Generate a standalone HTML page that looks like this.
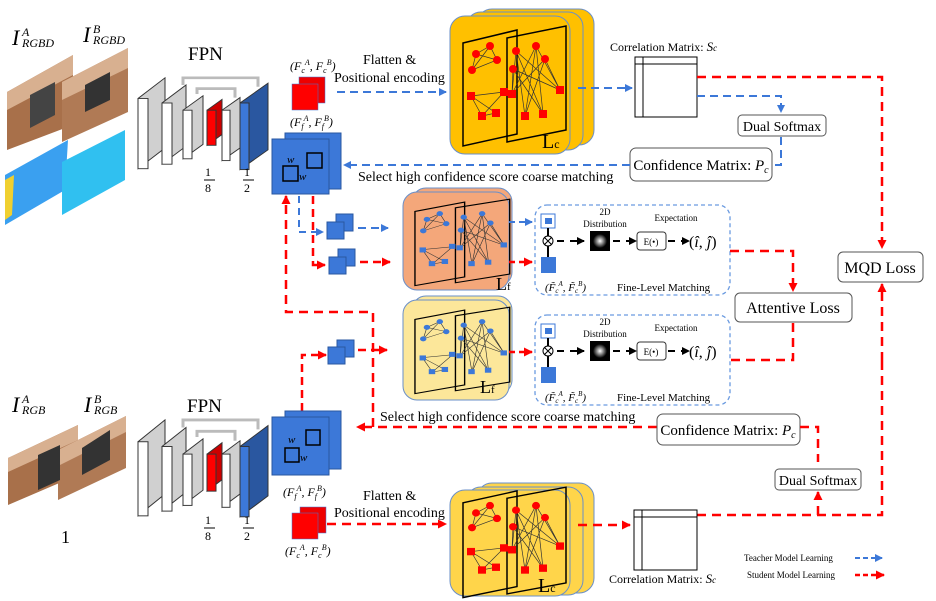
<!DOCTYPE html>
<html><head><meta charset="utf-8"><style>
body{margin:0;background:#fff}
svg{display:block;font-family:"Liberation Serif",serif}
</style></head><body>
<svg width="936" height="601" viewBox="0 0 936 601" xmlns="http://www.w3.org/2000/svg">
<defs>
<marker id="ab" markerWidth="8" markerHeight="8" refX="7" refY="4" orient="auto" markerUnits="userSpaceOnUse"><path d="M0,0 L8,4 L0,8z" fill="#3c78d8"/></marker>
<marker id="ar" markerWidth="9" markerHeight="9" refX="8" refY="4.5" orient="auto" markerUnits="userSpaceOnUse"><path d="M0,0 L9,4.5 L0,9z" fill="#f00"/></marker>
<marker id="ak" markerWidth="8" markerHeight="8" refX="7" refY="4" orient="auto" markerUnits="userSpaceOnUse"><path d="M0,0 L8,4 L0,8z" fill="#000"/></marker>
<radialGradient id="gs"><stop offset="0" stop-color="#fff"/><stop offset="0.7" stop-color="#000"/></radialGradient>
<g id="graph">
 <polygon points="13,27 67,14 67,118 13,130" fill="none" stroke="#000" stroke-width="1.5"/>
 <polygon points="57,22 116,10 116,114 57,126" fill="none" stroke="#000" stroke-width="1.5"/>
 <g stroke="#333" stroke-width="0.7" fill="none">
 <path d="M26,38L40,30L47,44L22,54L26,38L47,44M40,30L22,54M21,80L54,76L32,100L46,97L21,80L46,97M54,76L32,100M21,80L32,100"/>
 <path d="M66,35L62,78M66,35L75,100M66,35L110,74M86,30L62,78M86,30L93,98M86,30L75,100M95,43L62,78M95,43L75,100M63,53L110,74M63,53L93,98M66,35L93,98M95,43L110,74M63,53L62,78M86,30L110,74"/>
 </g>
</g>
<g id="grR">
 <use href="#graph"/>
 <g fill="#f00"><circle cx="26" cy="38" r="4"/><circle cx="40" cy="30" r="4"/><circle cx="47" cy="44" r="4"/><circle cx="22" cy="54" r="4"/>
 <circle cx="66" cy="35" r="4"/><circle cx="86" cy="30" r="4"/><circle cx="95" cy="43" r="4"/><circle cx="63" cy="53" r="4"/>
 <rect x="17" y="76" width="8" height="8"/><rect x="50" y="72" width="8" height="8"/><rect x="28" y="96" width="8" height="8"/><rect x="42" y="93" width="8" height="8"/>
 <rect x="58" y="74" width="8" height="8"/><rect x="106" y="70" width="8" height="8"/><rect x="71" y="96" width="8" height="8"/><rect x="89" y="94" width="8" height="8"/></g>
</g>
<g id="grB">
 <use href="#graph"/>
 <g fill="#3c78d8"><circle cx="26" cy="38" r="3.5"/><circle cx="40" cy="30" r="3.5"/><circle cx="47" cy="44" r="3.5"/><circle cx="22" cy="54" r="3.5"/>
 <circle cx="66" cy="35" r="3.5"/><circle cx="86" cy="30" r="3.5"/><circle cx="95" cy="43" r="3.5"/><circle cx="63" cy="53" r="3.5"/>
 <rect x="18" y="77" width="7" height="7"/><rect x="50" y="72" width="7" height="7"/><rect x="28" y="96" width="7" height="7"/><rect x="42" y="93" width="7" height="7"/>
 <rect x="58" y="74" width="7" height="7"/><rect x="106" y="70" width="7" height="7"/><rect x="71" y="96" width="7" height="7"/><rect x="89" y="94" width="7" height="7"/></g>
</g>
<g id="fpn">
 <path d="M183,10 L183,2 L258,2 L258,12 M197,20 L197,14 L235,14 L235,24" fill="none" stroke="#bbb" stroke-width="3"/>
 <polygon points="138,25 165,2 165,80 138,103" fill="#d0d0d0" stroke="#333"/><rect x="138" y="25" width="10" height="78" fill="#fff" stroke="#333"/>
 <polygon points="162,30 186,10 186,78 162,98" fill="#d0d0d0" stroke="#333"/><rect x="162" y="30" width="10" height="68" fill="#fff" stroke="#333"/>
 <polygon points="183,38 203,22 203,76 183,92" fill="#d0d0d0" stroke="#333"/><rect x="183" y="38" width="9" height="54" fill="#fff" stroke="#333"/>
 <polygon points="207,38 222,26 222,65 207,77" fill="#c00" stroke="#333"/><rect x="207" y="38" width="9" height="39" fill="#f00" stroke="#333"/>
 <polygon points="222,38 240,24 240,80 222,94" fill="#d0d0d0" stroke="#333"/><rect x="222" y="38" width="8" height="56" fill="#fff" stroke="#333"/>
 <polygon points="240,30 268,8 268,82 240,104" fill="#2a57a0" stroke="#333"/><rect x="240" y="30" width="9" height="74" fill="#3c78d8" stroke="#333"/>
</g>
</defs>

<!-- top images -->
<text x="12" y="45" font-size="22" font-style="italic">I</text><text x="22" y="36" font-size="12" font-style="italic">A</text><text x="22" y="47" font-size="12" font-style="italic">RGBD</text>
<text x="83" y="42" font-size="22" font-style="italic">I</text><text x="93" y="33" font-size="12" font-style="italic">B</text><text x="93" y="44" font-size="12" font-style="italic">RGBD</text>
<polygon points="7,92 73,55 73,125 7,150" fill="#a8704a"/><polygon points="62,82 128,48 128,112 62,142" fill="#b07a55"/>
<polygon points="7,92 73,55 73,75 7,110" fill="#d8b090"/><polygon points="62,82 128,48 128,68 62,100" fill="#d8b090"/>
<polygon points="30,95 55,82 55,115 30,128" fill="#444"/><polygon points="85,85 110,72 110,100 85,112" fill="#333"/>
<polygon points="5,175 68,140 65,190 5,225" fill="#3aa0f0"/><polygon points="62,162 125,130 125,180 62,215" fill="#30c0f0"/>
<polygon points="5,180 14,175 12,215 5,220" fill="#f0d030"/>

<!-- top FPN -->
<text x="188" y="60" font-size="19">FPN</text>
<use href="#fpn" transform="translate(0,76) scale(1,0.9)"/>
<text x="205" y="176" font-size="12">1</text><line x1="204" y1="180" x2="215" y2="180" stroke="#000"/><text x="205" y="192" font-size="12">8</text>
<text x="244" y="176" font-size="12">1</text><line x1="243" y1="180" x2="254" y2="180" stroke="#000"/><text x="244" y="192" font-size="12">2</text>

<text x="290" y="70" font-size="12" font-style="italic">(F<tspan font-size="8" dy="3">c</tspan><tspan font-size="8" dy="-8">A</tspan><tspan dy="5">, F</tspan><tspan font-size="8" dy="3">c</tspan><tspan font-size="8" dy="-8">B</tspan><tspan dy="5">)</tspan></text>
<rect x="299" y="77" width="26" height="26" fill="#e00" stroke="#3c78d8" stroke-width="0.5"/><rect x="292" y="84" width="26" height="26" fill="#f00" stroke="#3c78d8" stroke-width="0.5"/>
<text x="290" y="126" font-size="12" font-style="italic">(F<tspan font-size="8" dy="3">f</tspan><tspan font-size="8" dy="-8">A</tspan><tspan dy="5">, F</tspan><tspan font-size="8" dy="3">f</tspan><tspan font-size="8" dy="-8">B</tspan><tspan dy="5">)</tspan></text>
<rect x="285" y="133" width="56" height="56" fill="#3c78d8" stroke="#2a57a0"/><rect x="272" y="139" width="57" height="55" fill="#3c78d8" stroke="#2a57a0"/>
<rect x="307" y="153" width="15" height="15" fill="none" stroke="#000" stroke-width="1.5"/><rect x="283" y="166" width="15" height="15" fill="none" stroke="#000" stroke-width="1.5"/>
<text x="287" y="163" font-size="11" font-style="italic">w</text><text x="299" y="180" font-size="11" font-style="italic">w</text>

<text x="363" y="64" font-size="14">Flatten &amp;</text>
<text x="334" y="82" font-size="14">Positional encoding</text>
<line x1="337" y1="92" x2="446" y2="92" stroke="#3c78d8" stroke-width="2" stroke-dasharray="8,5" marker-end="url(#ab)"/>

<!-- top Lc -->
<rect x="477" y="9" width="117" height="136" rx="15" fill="#ffc000" stroke="#6a8fc8"/>
<rect x="466" y="12" width="117" height="138" rx="15" fill="#ffc000" stroke="#6a8fc8"/>
<rect x="450" y="16" width="120" height="138" rx="15" fill="#ffc000" stroke="#6a8fc8"/>
<use href="#grR" transform="translate(450,16)"/>
<text x="542" y="148" font-size="20">L<tspan font-size="12">c</tspan></text>
<line x1="578" y1="88" x2="632" y2="88" stroke="#3c78d8" stroke-width="2" stroke-dasharray="8,5" marker-end="url(#ab)"/>

<text x="610" y="51" font-size="12">Correlation Matrix:  <tspan font-style="italic" font-size="13">S<tspan font-size="9">c</tspan></tspan></text>
<rect x="635" y="57" width="62" height="60" fill="#fff" stroke="#000"/><line x1="635" y1="64" x2="697" y2="64" stroke="#000"/><line x1="643" y1="57" x2="643" y2="117" stroke="#000"/>
<path d="M697,77 L882,77 L882,248" fill="none" stroke="#f00" stroke-width="2.5" stroke-dasharray="9,6" marker-end="url(#ar)"/>
<path d="M697,96 L781,96 L781,112" fill="none" stroke="#3c78d8" stroke-width="2" stroke-dasharray="8,5" marker-end="url(#ab)"/>
<rect x="738" y="115" width="88" height="21" rx="4" fill="#fff" stroke="#555"/><text x="782" y="131" font-size="14" text-anchor="middle">Dual Softmax</text>
<path d="M781,137 L781,165 L773,165" fill="none" stroke="#3c78d8" stroke-width="2" stroke-dasharray="8,5"/>
<rect x="630" y="148" width="142" height="33" rx="6" fill="#fff" stroke="#555"/><text x="701" y="170" font-size="15" text-anchor="middle">Confidence Matrix: <tspan font-style="italic">P<tspan font-size="10" dy="3">c</tspan></tspan></text>
<line x1="630" y1="165" x2="344" y2="165" stroke="#3c78d8" stroke-width="2" stroke-dasharray="8,5" marker-end="url(#ab)"/>
<text x="358" y="181" font-size="14">Select high confidence score coarse matching</text>

<!-- upper fine -->
<path d="M299,196 L299,232 L323,232" fill="none" stroke="#3c78d8" stroke-width="2" stroke-dasharray="7,5" marker-end="url(#ab)"/>
<path d="M313,196 L313,265 L325,265" fill="none" stroke="#f00" stroke-width="2.5" stroke-dasharray="8,5" marker-end="url(#ar)"/>
<rect x="336" y="214" width="17" height="17" fill="#3c78d8" stroke="#2a57a0"/><rect x="327" y="222" width="17" height="17" fill="#3c78d8" stroke="#2a57a0"/>
<rect x="338" y="249" width="17" height="17" fill="#3c78d8" stroke="#2a57a0"/><rect x="329" y="257" width="17" height="17" fill="#3c78d8" stroke="#2a57a0"/>
<line x1="358" y1="228" x2="388" y2="228" stroke="#3c78d8" stroke-width="2" stroke-dasharray="8,5" marker-end="url(#ab)"/>
<line x1="360" y1="262" x2="390" y2="262" stroke="#f00" stroke-width="2.5" stroke-dasharray="8,5" marker-end="url(#ar)"/>

<rect x="412" y="188" width="100" height="98" rx="14" fill="#f4a77a" stroke="#6a8fc8"/>
<rect x="403" y="192" width="106" height="98" rx="14" fill="#f4a77a" stroke="#6a8fc8"/>
<use href="#grB" transform="translate(403,192) scale(0.92,0.72)"/>
<text x="496" y="290" font-size="18">L<tspan font-size="11">f</tspan></text>
<line x1="509" y1="222" x2="532" y2="222" stroke="#3c78d8" stroke-width="2" stroke-dasharray="6,4" marker-end="url(#ab)"/>
<line x1="509" y1="262" x2="532" y2="262" stroke="#f00" stroke-width="2.5" stroke-dasharray="6,4" marker-end="url(#ar)"/>

<g id="fine">
<rect x="535" y="205" width="195" height="90" rx="12" fill="none" stroke="#6a9ae0" stroke-width="1.3" stroke-dasharray="4,3"/>
<rect x="541" y="214" width="14" height="14" fill="#fff" stroke="#3c78d8"/><rect x="545" y="218" width="7" height="6" fill="#3c78d8"/>
<line x1="548" y1="228" x2="548" y2="257" stroke="#000" stroke-width="2"/>
<circle cx="548" cy="241" r="5" fill="#fff" stroke="#000"/><path d="M544.5,237.5L551.5,244.5M551.5,237.5L544.5,244.5" stroke="#000"/>
<rect x="541" y="257" width="15" height="16" fill="#3c78d8"/>
<line x1="557" y1="241" x2="584" y2="241" stroke="#000" stroke-width="2" stroke-dasharray="7,6" marker-end="url(#ak)"/>
<text x="605" y="215" font-size="9" text-anchor="middle">2D</text><text x="605" y="227" font-size="9" text-anchor="middle">Distribution</text>
<rect x="590" y="231" width="20" height="20" fill="url(#gs)"/>
<line x1="613" y1="241" x2="636" y2="241" stroke="#000" stroke-width="2" stroke-dasharray="7,6" marker-end="url(#ak)"/>
<text x="676" y="221" font-size="9" text-anchor="middle">Expectation</text>
<rect x="637" y="232" width="29" height="18" rx="3" fill="#fff" stroke="#333"/><text x="651" y="245" font-size="9" text-anchor="middle">E(•)</text>
<line x1="668" y1="241" x2="689" y2="241" stroke="#000" stroke-width="2" stroke-dasharray="7,6" marker-end="url(#ak)"/>
<text x="689" y="247" font-size="16">(<tspan font-style="italic">î</tspan>, <tspan font-style="italic">ĵ</tspan>)</text>
<text x="545" y="291" font-size="11" font-style="italic">(F̃<tspan font-size="7" dy="2">c</tspan><tspan font-size="7" dy="-7">A</tspan><tspan dy="5">, F̃</tspan><tspan font-size="7" dy="2">c</tspan><tspan font-size="7" dy="-7">B</tspan><tspan dy="5">)</tspan></text>
<text x="617" y="291" font-size="11">Fine-Level Matching</text>
</g>
<use href="#fine" transform="translate(0,110)"/>

<path d="M730,251 L793,251 L793,291" fill="none" stroke="#f00" stroke-width="2.5" stroke-dasharray="9,6" marker-end="url(#ar)"/>
<rect x="735" y="293" width="117" height="29" rx="5" fill="#fff" stroke="#555"/><text x="793" y="313" font-size="16" text-anchor="middle">Attentive Loss</text>
<path d="M793,323 L793,360 L728,360" fill="none" stroke="#f00" stroke-width="2.5" stroke-dasharray="9,6"/>
<rect x="838" y="252" width="85" height="30" rx="5" fill="#fff" stroke="#555"/><text x="880" y="273" font-size="16" text-anchor="middle">MQD Loss</text>

<!-- lower Lf -->
<rect x="412" y="296" width="100" height="98" rx="14" fill="#fce79a" stroke="#6a8fc8"/>
<rect x="403" y="300" width="106" height="100" rx="14" fill="#fce79a" stroke="#6a8fc8"/>
<use href="#grB" transform="translate(403,300) scale(0.92,0.72)"/>
<text x="480" y="393" font-size="18">L<tspan font-size="11">f</tspan></text>
<line x1="509" y1="352" x2="532" y2="352" stroke="#f00" stroke-width="2.5" stroke-dasharray="6,4" marker-end="url(#ar)"/>

<path d="M373,427 L373,312 L286,312 L286,196" fill="none" stroke="#f00" stroke-width="2.5" stroke-dasharray="9,6" marker-end="url(#ar)"/>
<path d="M302,411 L302,355 L326,355" fill="none" stroke="#f00" stroke-width="2.5" stroke-dasharray="8,5" marker-end="url(#ar)"/>
<rect x="337" y="340" width="17" height="17" fill="#3c78d8" stroke="#2a57a0"/><rect x="328" y="347" width="17" height="17" fill="#3c78d8" stroke="#2a57a0"/>
<line x1="358" y1="350" x2="387" y2="350" stroke="#f00" stroke-width="2.5" stroke-dasharray="8,5" marker-end="url(#ar)"/>

<!-- lower section -->
<text x="12" y="412" font-size="22" font-style="italic">I</text><text x="22" y="403" font-size="12" font-style="italic">A</text><text x="22" y="414" font-size="12" font-style="italic">RGB</text>
<text x="84" y="412" font-size="22" font-style="italic">I</text><text x="94" y="403" font-size="12" font-style="italic">B</text><text x="94" y="414" font-size="12" font-style="italic">RGB</text>
<polygon points="8,458 78,425 78,475 8,505" fill="#a8704a"/><polygon points="58,450 126,416 126,468 58,500" fill="#b07a55"/>
<polygon points="8,458 78,425 78,440 8,472" fill="#d8b090"/><polygon points="58,450 126,416 126,432 58,466" fill="#d8b090"/>
<polygon points="38,455 60,445 60,480 38,490" fill="#333"/><polygon points="82,448 110,430 110,460 82,475" fill="#333"/>
<text x="61" y="543" font-size="18">1</text>
<text x="187" y="412" font-size="19">FPN</text>
<use href="#fpn" transform="translate(0,418) scale(1,0.95)"/>
<text x="205" y="524" font-size="12">1</text><line x1="204" y1="528" x2="215" y2="528" stroke="#000"/><text x="205" y="540" font-size="12">8</text>
<text x="244" y="524" font-size="12">1</text><line x1="243" y1="528" x2="254" y2="528" stroke="#000"/><text x="244" y="540" font-size="12">2</text>

<rect x="285" y="411" width="56" height="58" fill="#3c78d8" stroke="#2a57a0"/><rect x="272" y="417" width="57" height="58" fill="#3c78d8" stroke="#2a57a0"/>
<rect x="306" y="430" width="14" height="15" fill="none" stroke="#000" stroke-width="1.5"/><rect x="285" y="448" width="14" height="14" fill="none" stroke="#000" stroke-width="1.5"/>
<text x="288" y="443" font-size="11" font-style="italic">w</text><text x="300" y="461" font-size="11" font-style="italic">w</text>
<text x="283" y="496" font-size="12" font-style="italic">(F<tspan font-size="8" dy="3">f</tspan><tspan font-size="8" dy="-8">A</tspan><tspan dy="5">, F</tspan><tspan font-size="8" dy="3">f</tspan><tspan font-size="8" dy="-8">B</tspan><tspan dy="5">)</tspan></text>
<rect x="300" y="507" width="26" height="26" fill="#e00" stroke="#3c78d8" stroke-width="0.5"/><rect x="292" y="513" width="26" height="26" fill="#f00" stroke="#3c78d8" stroke-width="0.5"/>
<text x="285" y="555" font-size="12" font-style="italic">(F<tspan font-size="8" dy="3">c</tspan><tspan font-size="8" dy="-8">A</tspan><tspan dy="5">, F</tspan><tspan font-size="8" dy="3">c</tspan><tspan font-size="8" dy="-8">B</tspan><tspan dy="5">)</tspan></text>
<text x="363" y="500" font-size="14">Flatten &amp;</text>
<text x="334" y="517" font-size="14">Positional encoding</text>
<line x1="327" y1="524" x2="446" y2="524" stroke="#f00" stroke-width="2.5" stroke-dasharray="9,6" marker-end="url(#ar)"/>

<line x1="657" y1="427" x2="357" y2="427" stroke="#f00" stroke-width="2.5" stroke-dasharray="9,6" marker-end="url(#ar)"/>
<text x="380" y="421" font-size="14">Select high confidence score coarse matching</text>
<rect x="657" y="414" width="143" height="31" rx="6" fill="#fff" stroke="#555"/><text x="728" y="435" font-size="15" text-anchor="middle">Confidence Matrix: <tspan font-style="italic">P<tspan font-size="10" dy="3">c</tspan></tspan></text>
<path d="M800,427 L818,427 L818,462" fill="none" stroke="#f00" stroke-width="2.5" stroke-dasharray="9,6"/>
<rect x="775" y="469" width="86" height="21" rx="4" fill="#fff" stroke="#555"/><text x="818" y="485" font-size="14" text-anchor="middle">Dual Softmax</text>
<path d="M882,361 L882,515 L697,515" fill="none" stroke="#f00" stroke-width="2.5" stroke-dasharray="9,6"/>
<line x1="882" y1="361" x2="882" y2="284" stroke="#f00" stroke-width="2.5" stroke-dasharray="9,6" marker-end="url(#ar)"/>
<line x1="818" y1="515" x2="818" y2="492" stroke="#f00" stroke-width="2.5" stroke-dasharray="9,6" marker-end="url(#ar)"/>

<rect x="477" y="483" width="117" height="110" rx="15" fill="#ffd54a" stroke="#6a8fc8"/>
<rect x="466" y="487" width="117" height="108" rx="15" fill="#ffd54a" stroke="#6a8fc8"/>
<rect x="450" y="490" width="120" height="106" rx="15" fill="#ffd54a" stroke="#6a8fc8"/>
<use href="#grR" transform="translate(450,478) scale(1,0.92)"/>
<text x="538" y="592" font-size="20">L<tspan font-size="12">c</tspan></text>
<line x1="578" y1="525" x2="630" y2="525" stroke="#f00" stroke-width="2.5" stroke-dasharray="9,6" marker-end="url(#ar)"/>
<rect x="634" y="510" width="63" height="60" fill="#fff" stroke="#000"/><line x1="634" y1="517" x2="697" y2="517" stroke="#000"/><line x1="642" y1="510" x2="642" y2="570" stroke="#000"/>
<text x="609" y="583" font-size="12">Correlation Matrix:  <tspan font-style="italic" font-size="13">S<tspan font-size="9">c</tspan></tspan></text>

<text x="744" y="561" font-size="9">Teacher Model Learning</text>
<line x1="855" y1="558" x2="882" y2="558" stroke="#3c78d8" stroke-width="2" stroke-dasharray="5,3" marker-end="url(#ab)"/>
<text x="747" y="578" font-size="9">Student Model Learning</text>
<line x1="855" y1="575" x2="884" y2="575" stroke="#f00" stroke-width="2.5" stroke-dasharray="5,3" marker-end="url(#ar)"/>
</svg>
</body></html>
